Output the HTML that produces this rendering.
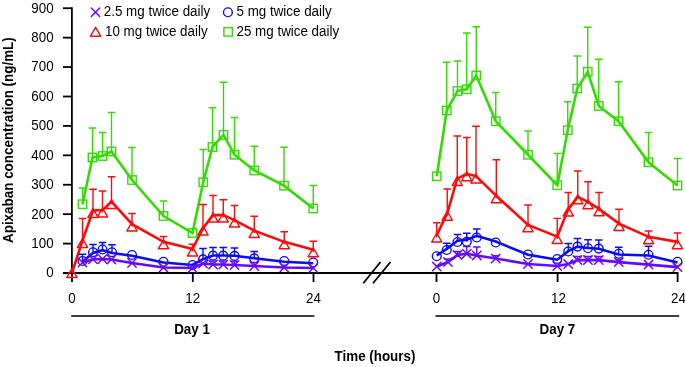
<!DOCTYPE html>
<html><head><meta charset="utf-8"><title>Apixaban concentration</title>
<style>
html,body{margin:0;padding:0;background:#fff}
svg{display:block}
text{font-family:"Liberation Sans",Arial,sans-serif;font-size:14.6px;fill:#000}
</style></head><body>
<svg width="685" height="367" viewBox="0 0 685 367">
<rect width="685" height="367" fill="#fff"/>
<g>
<path d="M71.9 7.3V273.9" stroke="#000" stroke-width="1.8" fill="none"/>
<path d="M63 273.00H71.9" stroke="#000" stroke-width="1.8"/>
<text transform="translate(53.60 277.40) scale(0.917 1)" text-anchor="end">0</text>
<path d="M63 243.58H71.9" stroke="#000" stroke-width="1.8"/>
<text transform="translate(53.60 247.98) scale(0.917 1)" text-anchor="end">100</text>
<path d="M63 214.16H71.9" stroke="#000" stroke-width="1.8"/>
<text transform="translate(53.60 218.56) scale(0.917 1)" text-anchor="end">200</text>
<path d="M63 184.74H71.9" stroke="#000" stroke-width="1.8"/>
<text transform="translate(53.60 189.14) scale(0.917 1)" text-anchor="end">300</text>
<path d="M63 155.32H71.9" stroke="#000" stroke-width="1.8"/>
<text transform="translate(53.60 159.72) scale(0.917 1)" text-anchor="end">400</text>
<path d="M63 125.90H71.9" stroke="#000" stroke-width="1.8"/>
<text transform="translate(53.60 130.30) scale(0.917 1)" text-anchor="end">500</text>
<path d="M63 96.48H71.9" stroke="#000" stroke-width="1.8"/>
<text transform="translate(53.60 100.88) scale(0.917 1)" text-anchor="end">600</text>
<path d="M63 67.06H71.9" stroke="#000" stroke-width="1.8"/>
<text transform="translate(53.60 71.46) scale(0.917 1)" text-anchor="end">700</text>
<path d="M63 37.64H71.9" stroke="#000" stroke-width="1.8"/>
<text transform="translate(53.60 42.04) scale(0.917 1)" text-anchor="end">800</text>
<path d="M63 8.22H71.9" stroke="#000" stroke-width="1.8"/>
<text transform="translate(53.60 12.62) scale(0.917 1)" text-anchor="end">900</text>
<path d="M63 273.0H678.4" stroke="#000" stroke-width="1.8"/>
<path d="M72 273.0V282" stroke="#000" stroke-width="1.8"/>
<text transform="translate(72.00 303.00) scale(0.917 1)" text-anchor="middle">0</text>
<path d="M192.8 273.0V282" stroke="#000" stroke-width="1.8"/>
<text transform="translate(192.80 303.00) scale(0.917 1)" text-anchor="middle">12</text>
<path d="M313.5 273.0V282" stroke="#000" stroke-width="1.8"/>
<text transform="translate(313.50 303.00) scale(0.917 1)" text-anchor="middle">24</text>
<path d="M436.5 273.0V282" stroke="#000" stroke-width="1.8"/>
<text transform="translate(436.50 303.00) scale(0.917 1)" text-anchor="middle">0</text>
<path d="M557.6 273.0V282" stroke="#000" stroke-width="1.8"/>
<text transform="translate(558.40 303.00) scale(0.917 1)" text-anchor="middle">12</text>
<path d="M677.6 273.0V282" stroke="#000" stroke-width="1.8"/>
<text transform="translate(678.40 303.00) scale(0.917 1)" text-anchor="middle">24</text>
<path d="M363.25 283.25L380.5 262M373 283.25L390.5 262" stroke="#000" stroke-width="1.8" fill="none"/>
<path d="M71.2 316H314.4M435.5 316H679.2" stroke="#000" stroke-width="1.7"/>
<text transform="translate(192.00 334.40) scale(0.917 1)" text-anchor="middle" font-weight="bold">Day 1</text>
<text transform="translate(557.40 334.40) scale(0.917 1)" text-anchor="middle" font-weight="bold">Day 7</text>
<text transform="translate(375.00 361.00) scale(0.917 1)" text-anchor="middle" font-weight="bold">Time (hours)</text>
<text transform="translate(12.9 243) rotate(-90) scale(0.872 1)" font-weight="bold" style="font-size:15.4px">Apixaban concentration (ng/mL)</text>
</g>
<g>
<path d="M82.50 204.25V188.00M78.70 188.00H86.30" stroke="#32dc00" stroke-width="1.4" fill="none"/>
<path d="M92.50 157.50V128.00M88.70 128.00H96.30" stroke="#32dc00" stroke-width="1.4" fill="none"/>
<path d="M102.50 156.00V132.50M98.70 132.50H106.30" stroke="#32dc00" stroke-width="1.4" fill="none"/>
<path d="M111.50 151.50V112.50M107.70 112.50H115.30" stroke="#32dc00" stroke-width="1.4" fill="none"/>
<path d="M132.00 180.00V147.50M128.20 147.50H135.80" stroke="#32dc00" stroke-width="1.4" fill="none"/>
<path d="M163.50 216.00V201.00M159.70 201.00H167.30" stroke="#32dc00" stroke-width="1.4" fill="none"/>
<path d="M203.25 182.25V149.50M199.45 149.50H207.05" stroke="#32dc00" stroke-width="1.4" fill="none"/>
<path d="M212.50 147.00V107.75M208.70 107.75H216.30" stroke="#32dc00" stroke-width="1.4" fill="none"/>
<path d="M223.50 134.90V82.25M219.70 82.25H227.30" stroke="#32dc00" stroke-width="1.4" fill="none"/>
<path d="M234.50 154.75V117.50M230.70 117.50H238.30" stroke="#32dc00" stroke-width="1.4" fill="none"/>
<path d="M254.25 170.50V146.25M250.45 146.25H258.05" stroke="#32dc00" stroke-width="1.4" fill="none"/>
<path d="M284.00 185.70V147.25M280.20 147.25H287.80" stroke="#32dc00" stroke-width="1.4" fill="none"/>
<path d="M313.25 208.50V185.50M309.45 185.50H317.05" stroke="#32dc00" stroke-width="1.4" fill="none"/>
<polyline points="82.50,204.25 92.50,157.50 102.50,156.00 111.50,151.50 132.00,180.00 163.50,216.00 192.50,233.00 203.25,182.25 212.50,147.00 223.50,134.90 234.50,154.75 254.25,170.50 284.00,185.70 313.25,208.50" fill="none" stroke="#32dc00" stroke-width="2.6" stroke-linejoin="miter" stroke-linecap="butt"/>
<rect x="78.30" y="200.05" width="8.4" height="8.4" fill="none" stroke="#32dc00" stroke-width="1.4"/>
<rect x="88.30" y="153.30" width="8.4" height="8.4" fill="none" stroke="#32dc00" stroke-width="1.4"/>
<rect x="98.30" y="151.80" width="8.4" height="8.4" fill="none" stroke="#32dc00" stroke-width="1.4"/>
<rect x="107.30" y="147.30" width="8.4" height="8.4" fill="none" stroke="#32dc00" stroke-width="1.4"/>
<rect x="127.80" y="175.80" width="8.4" height="8.4" fill="none" stroke="#32dc00" stroke-width="1.4"/>
<rect x="159.30" y="211.80" width="8.4" height="8.4" fill="none" stroke="#32dc00" stroke-width="1.4"/>
<rect x="188.30" y="228.80" width="8.4" height="8.4" fill="none" stroke="#32dc00" stroke-width="1.4"/>
<rect x="199.05" y="178.05" width="8.4" height="8.4" fill="none" stroke="#32dc00" stroke-width="1.4"/>
<rect x="208.30" y="142.80" width="8.4" height="8.4" fill="none" stroke="#32dc00" stroke-width="1.4"/>
<rect x="219.30" y="130.70" width="8.4" height="8.4" fill="none" stroke="#32dc00" stroke-width="1.4"/>
<rect x="230.30" y="150.55" width="8.4" height="8.4" fill="none" stroke="#32dc00" stroke-width="1.4"/>
<rect x="250.05" y="166.30" width="8.4" height="8.4" fill="none" stroke="#32dc00" stroke-width="1.4"/>
<rect x="279.80" y="181.50" width="8.4" height="8.4" fill="none" stroke="#32dc00" stroke-width="1.4"/>
<rect x="309.05" y="204.30" width="8.4" height="8.4" fill="none" stroke="#32dc00" stroke-width="1.4"/>
<path d="M82.50 243.00V218.50M78.70 218.50H86.30" stroke="#ff0a0a" stroke-width="1.4" fill="none"/>
<path d="M93.00 213.00V189.25M89.20 189.25H96.80" stroke="#ff0a0a" stroke-width="1.4" fill="none"/>
<path d="M102.50 212.50V191.00M98.70 191.00H106.30" stroke="#ff0a0a" stroke-width="1.4" fill="none"/>
<path d="M111.50 204.00V176.70M107.70 176.70H115.30" stroke="#ff0a0a" stroke-width="1.4" fill="none"/>
<path d="M132.00 226.50V213.50M128.20 213.50H135.80" stroke="#ff0a0a" stroke-width="1.4" fill="none"/>
<path d="M163.50 244.25V236.50M159.70 236.50H167.30" stroke="#ff0a0a" stroke-width="1.4" fill="none"/>
<path d="M192.50 251.50V244.25M188.70 244.25H196.30" stroke="#ff0a0a" stroke-width="1.4" fill="none"/>
<path d="M203.00 230.50V204.50M199.20 204.50H206.80" stroke="#ff0a0a" stroke-width="1.4" fill="none"/>
<path d="M213.00 217.50V195.50M209.20 195.50H216.80" stroke="#ff0a0a" stroke-width="1.4" fill="none"/>
<path d="M223.25 217.50V199.75M219.45 199.75H227.05" stroke="#ff0a0a" stroke-width="1.4" fill="none"/>
<path d="M234.50 222.50V205.50M230.70 205.50H238.30" stroke="#ff0a0a" stroke-width="1.4" fill="none"/>
<path d="M254.25 233.00V216.25M250.45 216.25H258.05" stroke="#ff0a0a" stroke-width="1.4" fill="none"/>
<path d="M284.25 244.25V231.75M280.45 231.75H288.05" stroke="#ff0a0a" stroke-width="1.4" fill="none"/>
<path d="M313.25 252.25V241.25M309.45 241.25H317.05" stroke="#ff0a0a" stroke-width="1.4" fill="none"/>
<polyline points="71.90,273.00 82.50,240.60 93.00,210.60 102.50,210.10 111.50,201.60 132.00,224.10 163.50,241.85 192.50,249.10 203.00,228.10 213.00,215.10 223.25,215.10 234.50,220.10 254.25,230.60 284.25,241.85 313.25,249.85" fill="none" stroke="#ff0a0a" stroke-width="2.6" stroke-linejoin="miter" stroke-linecap="butt"/>
<path d="M71.90 268.55L77.00 277.45H66.80Z" fill="none" stroke="#ff0a0a" stroke-width="1.4" stroke-linejoin="round"/>
<path d="M82.50 238.55L87.60 247.45H77.40Z" fill="none" stroke="#ff0a0a" stroke-width="1.4" stroke-linejoin="round"/>
<path d="M93.00 208.55L98.10 217.45H87.90Z" fill="none" stroke="#ff0a0a" stroke-width="1.4" stroke-linejoin="round"/>
<path d="M102.50 208.05L107.60 216.95H97.40Z" fill="none" stroke="#ff0a0a" stroke-width="1.4" stroke-linejoin="round"/>
<path d="M111.50 199.55L116.60 208.45H106.40Z" fill="none" stroke="#ff0a0a" stroke-width="1.4" stroke-linejoin="round"/>
<path d="M132.00 222.05L137.10 230.95H126.90Z" fill="none" stroke="#ff0a0a" stroke-width="1.4" stroke-linejoin="round"/>
<path d="M163.50 239.80L168.60 248.70H158.40Z" fill="none" stroke="#ff0a0a" stroke-width="1.4" stroke-linejoin="round"/>
<path d="M192.50 247.05L197.60 255.95H187.40Z" fill="none" stroke="#ff0a0a" stroke-width="1.4" stroke-linejoin="round"/>
<path d="M203.00 226.05L208.10 234.95H197.90Z" fill="none" stroke="#ff0a0a" stroke-width="1.4" stroke-linejoin="round"/>
<path d="M213.00 213.05L218.10 221.95H207.90Z" fill="none" stroke="#ff0a0a" stroke-width="1.4" stroke-linejoin="round"/>
<path d="M223.25 213.05L228.35 221.95H218.15Z" fill="none" stroke="#ff0a0a" stroke-width="1.4" stroke-linejoin="round"/>
<path d="M234.50 218.05L239.60 226.95H229.40Z" fill="none" stroke="#ff0a0a" stroke-width="1.4" stroke-linejoin="round"/>
<path d="M254.25 228.55L259.35 237.45H249.15Z" fill="none" stroke="#ff0a0a" stroke-width="1.4" stroke-linejoin="round"/>
<path d="M284.25 239.80L289.35 248.70H279.15Z" fill="none" stroke="#ff0a0a" stroke-width="1.4" stroke-linejoin="round"/>
<path d="M313.25 247.80L318.35 256.70H308.15Z" fill="none" stroke="#ff0a0a" stroke-width="1.4" stroke-linejoin="round"/>
<path d="M82.50 261.00V254.30M78.70 254.30H86.30" stroke="#0a0aff" stroke-width="1.4" fill="none"/>
<path d="M93.00 252.25V244.50M89.20 244.50H96.80" stroke="#0a0aff" stroke-width="1.4" fill="none"/>
<path d="M102.50 249.50V242.50M98.70 242.50H106.30" stroke="#0a0aff" stroke-width="1.4" fill="none"/>
<path d="M112.00 252.25V244.80M108.20 244.80H115.80" stroke="#0a0aff" stroke-width="1.4" fill="none"/>
<path d="M203.00 259.40V248.50M199.20 248.50H206.80" stroke="#0a0aff" stroke-width="1.4" fill="none"/>
<path d="M213.00 255.65V247.50M209.20 247.50H216.80" stroke="#0a0aff" stroke-width="1.4" fill="none"/>
<path d="M223.25 255.65V247.50M219.45 247.50H227.05" stroke="#0a0aff" stroke-width="1.4" fill="none"/>
<path d="M234.50 255.90V248.00M230.70 248.00H238.30" stroke="#0a0aff" stroke-width="1.4" fill="none"/>
<path d="M254.25 258.40V251.50M250.45 251.50H258.05" stroke="#0a0aff" stroke-width="1.4" fill="none"/>
<polyline points="82.50,261.70 93.00,252.95 102.50,250.20 112.00,252.95 132.00,255.70 163.50,262.45 192.50,264.95 203.00,259.20 213.00,255.45 223.25,255.45 234.50,255.70 254.25,258.20 284.25,261.70 313.25,263.20" fill="none" stroke="#0a0aff" stroke-width="2.6" stroke-linejoin="miter" stroke-linecap="butt"/>
<circle cx="82.50" cy="261.00" r="4.4" fill="none" stroke="#0a0aff" stroke-width="1.4"/>
<circle cx="93.00" cy="252.25" r="4.4" fill="none" stroke="#0a0aff" stroke-width="1.4"/>
<circle cx="102.50" cy="249.50" r="4.4" fill="none" stroke="#0a0aff" stroke-width="1.4"/>
<circle cx="112.00" cy="252.25" r="4.4" fill="none" stroke="#0a0aff" stroke-width="1.4"/>
<circle cx="132.00" cy="255.00" r="4.4" fill="none" stroke="#0a0aff" stroke-width="1.4"/>
<circle cx="163.50" cy="261.75" r="4.4" fill="none" stroke="#0a0aff" stroke-width="1.4"/>
<circle cx="192.50" cy="265.05" r="4.4" fill="none" stroke="#0a0aff" stroke-width="1.4"/>
<circle cx="203.00" cy="259.40" r="4.4" fill="none" stroke="#0a0aff" stroke-width="1.4"/>
<circle cx="213.00" cy="255.65" r="4.4" fill="none" stroke="#0a0aff" stroke-width="1.4"/>
<circle cx="223.25" cy="255.65" r="4.4" fill="none" stroke="#0a0aff" stroke-width="1.4"/>
<circle cx="234.50" cy="255.90" r="4.4" fill="none" stroke="#0a0aff" stroke-width="1.4"/>
<circle cx="254.25" cy="258.40" r="4.4" fill="none" stroke="#0a0aff" stroke-width="1.4"/>
<circle cx="284.25" cy="261.00" r="4.4" fill="none" stroke="#0a0aff" stroke-width="1.4"/>
<circle cx="313.25" cy="262.50" r="4.4" fill="none" stroke="#0a0aff" stroke-width="1.4"/>
<path d="M213.00 264.50V261.00M209.20 261.00H216.80" stroke="#660aff" stroke-width="1.4" fill="none"/>
<path d="M223.25 264.50V261.00M219.45 261.00H227.05" stroke="#660aff" stroke-width="1.4" fill="none"/>
<path d="M234.50 265.00V261.20M230.70 261.20H238.30" stroke="#660aff" stroke-width="1.4" fill="none"/>
<path d="M254.25 266.00V262.50M250.45 262.50H258.05" stroke="#660aff" stroke-width="1.4" fill="none"/>
<polyline points="82.50,262.50 93.00,259.25 102.50,259.00 111.50,259.50 132.00,263.00 163.50,267.50 192.50,268.00 203.00,263.50 213.00,264.50 223.25,264.50 234.50,265.00 254.25,266.00 284.25,267.50 313.25,268.00" fill="none" stroke="#660aff" stroke-width="2.6" stroke-linejoin="miter" stroke-linecap="butt"/>
<path d="M78.30 258.30L86.70 266.70M78.30 266.70L86.70 258.30" fill="none" stroke="#660aff" stroke-width="1.5" stroke-linecap="round"/>
<path d="M88.80 255.05L97.20 263.45M88.80 263.45L97.20 255.05" fill="none" stroke="#660aff" stroke-width="1.5" stroke-linecap="round"/>
<path d="M98.30 254.80L106.70 263.20M98.30 263.20L106.70 254.80" fill="none" stroke="#660aff" stroke-width="1.5" stroke-linecap="round"/>
<path d="M107.30 255.30L115.70 263.70M107.30 263.70L115.70 255.30" fill="none" stroke="#660aff" stroke-width="1.5" stroke-linecap="round"/>
<path d="M127.80 258.80L136.20 267.20M127.80 267.20L136.20 258.80" fill="none" stroke="#660aff" stroke-width="1.5" stroke-linecap="round"/>
<path d="M159.30 263.30L167.70 271.70M159.30 271.70L167.70 263.30" fill="none" stroke="#660aff" stroke-width="1.5" stroke-linecap="round"/>
<path d="M188.30 263.80L196.70 272.20M188.30 272.20L196.70 263.80" fill="none" stroke="#660aff" stroke-width="1.5" stroke-linecap="round"/>
<path d="M198.80 259.30L207.20 267.70M198.80 267.70L207.20 259.30" fill="none" stroke="#660aff" stroke-width="1.5" stroke-linecap="round"/>
<path d="M208.80 260.30L217.20 268.70M208.80 268.70L217.20 260.30" fill="none" stroke="#660aff" stroke-width="1.5" stroke-linecap="round"/>
<path d="M219.05 260.30L227.45 268.70M219.05 268.70L227.45 260.30" fill="none" stroke="#660aff" stroke-width="1.5" stroke-linecap="round"/>
<path d="M230.30 260.80L238.70 269.20M230.30 269.20L238.70 260.80" fill="none" stroke="#660aff" stroke-width="1.5" stroke-linecap="round"/>
<path d="M250.05 261.80L258.45 270.20M250.05 270.20L258.45 261.80" fill="none" stroke="#660aff" stroke-width="1.5" stroke-linecap="round"/>
<path d="M280.05 263.30L288.45 271.70M280.05 271.70L288.45 263.30" fill="none" stroke="#660aff" stroke-width="1.5" stroke-linecap="round"/>
<path d="M309.05 263.80L317.45 272.20M309.05 272.20L317.45 263.80" fill="none" stroke="#660aff" stroke-width="1.5" stroke-linecap="round"/>
<path d="M446.75 110.50V62.25M442.95 62.25H450.55" stroke="#32dc00" stroke-width="1.4" fill="none"/>
<path d="M457.50 91.00V61.00M453.70 61.00H461.30" stroke="#32dc00" stroke-width="1.4" fill="none"/>
<path d="M466.75 89.25V33.00M462.95 33.00H470.55" stroke="#32dc00" stroke-width="1.4" fill="none"/>
<path d="M476.25 75.50V26.75M472.45 26.75H480.05" stroke="#32dc00" stroke-width="1.4" fill="none"/>
<path d="M495.75 121.25V92.50M491.95 92.50H499.55" stroke="#32dc00" stroke-width="1.4" fill="none"/>
<path d="M528.00 154.75V131.00M524.20 131.00H531.80" stroke="#32dc00" stroke-width="1.4" fill="none"/>
<path d="M557.25 185.25V153.50M553.45 153.50H561.05" stroke="#32dc00" stroke-width="1.4" fill="none"/>
<path d="M567.75 130.25V101.75M563.95 101.75H571.55" stroke="#32dc00" stroke-width="1.4" fill="none"/>
<path d="M577.25 88.50V56.00M573.45 56.00H581.05" stroke="#32dc00" stroke-width="1.4" fill="none"/>
<path d="M587.75 71.75V27.25M583.95 27.25H591.55" stroke="#32dc00" stroke-width="1.4" fill="none"/>
<path d="M598.75 106.00V59.25M594.95 59.25H602.55" stroke="#32dc00" stroke-width="1.4" fill="none"/>
<path d="M618.50 121.25V81.75M614.70 81.75H622.30" stroke="#32dc00" stroke-width="1.4" fill="none"/>
<path d="M648.50 162.25V132.50M644.70 132.50H652.30" stroke="#32dc00" stroke-width="1.4" fill="none"/>
<path d="M677.50 185.50V158.50M673.70 158.50H681.30" stroke="#32dc00" stroke-width="1.4" fill="none"/>
<polyline points="436.75,176.25 446.75,110.50 457.50,91.00 466.75,89.25 476.25,75.50 495.75,121.25 528.00,154.75 557.25,185.25 567.75,130.25 577.25,88.50 587.75,71.75 598.75,106.00 618.50,121.25 648.50,162.25 677.50,185.50" fill="none" stroke="#32dc00" stroke-width="2.6" stroke-linejoin="miter" stroke-linecap="butt"/>
<rect x="432.55" y="172.05" width="8.4" height="8.4" fill="none" stroke="#32dc00" stroke-width="1.4"/>
<rect x="442.55" y="106.30" width="8.4" height="8.4" fill="none" stroke="#32dc00" stroke-width="1.4"/>
<rect x="453.30" y="86.80" width="8.4" height="8.4" fill="none" stroke="#32dc00" stroke-width="1.4"/>
<rect x="462.55" y="85.05" width="8.4" height="8.4" fill="none" stroke="#32dc00" stroke-width="1.4"/>
<rect x="472.05" y="71.30" width="8.4" height="8.4" fill="none" stroke="#32dc00" stroke-width="1.4"/>
<rect x="491.55" y="117.05" width="8.4" height="8.4" fill="none" stroke="#32dc00" stroke-width="1.4"/>
<rect x="523.80" y="150.55" width="8.4" height="8.4" fill="none" stroke="#32dc00" stroke-width="1.4"/>
<rect x="553.05" y="181.05" width="8.4" height="8.4" fill="none" stroke="#32dc00" stroke-width="1.4"/>
<rect x="563.55" y="126.05" width="8.4" height="8.4" fill="none" stroke="#32dc00" stroke-width="1.4"/>
<rect x="573.05" y="84.30" width="8.4" height="8.4" fill="none" stroke="#32dc00" stroke-width="1.4"/>
<rect x="583.55" y="67.55" width="8.4" height="8.4" fill="none" stroke="#32dc00" stroke-width="1.4"/>
<rect x="594.55" y="101.80" width="8.4" height="8.4" fill="none" stroke="#32dc00" stroke-width="1.4"/>
<rect x="614.30" y="117.05" width="8.4" height="8.4" fill="none" stroke="#32dc00" stroke-width="1.4"/>
<rect x="644.30" y="158.05" width="8.4" height="8.4" fill="none" stroke="#32dc00" stroke-width="1.4"/>
<rect x="673.30" y="181.30" width="8.4" height="8.4" fill="none" stroke="#32dc00" stroke-width="1.4"/>
<path d="M436.75 237.55V222.75M432.95 222.75H440.55" stroke="#ff0a0a" stroke-width="1.4" fill="none"/>
<path d="M447.25 215.75V189.00M443.45 189.00H451.05" stroke="#ff0a0a" stroke-width="1.4" fill="none"/>
<path d="M457.25 181.10V136.00M453.45 136.00H461.05" stroke="#ff0a0a" stroke-width="1.4" fill="none"/>
<path d="M466.75 176.30V137.50M462.95 137.50H470.55" stroke="#ff0a0a" stroke-width="1.4" fill="none"/>
<path d="M476.00 178.50V126.25M472.20 126.25H479.80" stroke="#ff0a0a" stroke-width="1.4" fill="none"/>
<path d="M496.30 198.25V159.75M492.50 159.75H500.10" stroke="#ff0a0a" stroke-width="1.4" fill="none"/>
<path d="M528.00 227.25V205.00M524.20 205.00H531.80" stroke="#ff0a0a" stroke-width="1.4" fill="none"/>
<path d="M557.25 239.00V218.40M553.45 218.40H561.05" stroke="#ff0a0a" stroke-width="1.4" fill="none"/>
<path d="M568.25 211.50V192.50M564.45 192.50H572.05" stroke="#ff0a0a" stroke-width="1.4" fill="none"/>
<path d="M577.75 199.25V171.00M573.95 171.00H581.55" stroke="#ff0a0a" stroke-width="1.4" fill="none"/>
<path d="M588.00 204.25V181.75M584.20 181.75H591.80" stroke="#ff0a0a" stroke-width="1.4" fill="none"/>
<path d="M599.00 211.25V192.50M595.20 192.50H602.80" stroke="#ff0a0a" stroke-width="1.4" fill="none"/>
<path d="M619.00 226.00V209.25M615.20 209.25H622.80" stroke="#ff0a0a" stroke-width="1.4" fill="none"/>
<path d="M648.60 239.25V231.00M644.80 231.00H652.40" stroke="#ff0a0a" stroke-width="1.4" fill="none"/>
<path d="M677.40 244.25V233.00M673.60 233.00H681.20" stroke="#ff0a0a" stroke-width="1.4" fill="none"/>
<polyline points="436.75,235.15 447.25,213.35 457.25,178.70 466.75,173.90 476.00,176.10 496.30,195.85 528.00,224.85 557.25,236.60 568.25,209.10 577.75,196.85 588.00,201.85 599.00,208.85 619.00,223.60 648.60,236.85 677.40,241.85" fill="none" stroke="#ff0a0a" stroke-width="2.6" stroke-linejoin="miter" stroke-linecap="butt"/>
<path d="M436.75 233.10L441.85 242.00H431.65Z" fill="none" stroke="#ff0a0a" stroke-width="1.4" stroke-linejoin="round"/>
<path d="M447.25 211.30L452.35 220.20H442.15Z" fill="none" stroke="#ff0a0a" stroke-width="1.4" stroke-linejoin="round"/>
<path d="M457.25 176.65L462.35 185.55H452.15Z" fill="none" stroke="#ff0a0a" stroke-width="1.4" stroke-linejoin="round"/>
<path d="M466.75 171.85L471.85 180.75H461.65Z" fill="none" stroke="#ff0a0a" stroke-width="1.4" stroke-linejoin="round"/>
<path d="M476.00 174.05L481.10 182.95H470.90Z" fill="none" stroke="#ff0a0a" stroke-width="1.4" stroke-linejoin="round"/>
<path d="M496.30 193.80L501.40 202.70H491.20Z" fill="none" stroke="#ff0a0a" stroke-width="1.4" stroke-linejoin="round"/>
<path d="M528.00 222.80L533.10 231.70H522.90Z" fill="none" stroke="#ff0a0a" stroke-width="1.4" stroke-linejoin="round"/>
<path d="M557.25 234.55L562.35 243.45H552.15Z" fill="none" stroke="#ff0a0a" stroke-width="1.4" stroke-linejoin="round"/>
<path d="M568.25 207.05L573.35 215.95H563.15Z" fill="none" stroke="#ff0a0a" stroke-width="1.4" stroke-linejoin="round"/>
<path d="M577.75 194.80L582.85 203.70H572.65Z" fill="none" stroke="#ff0a0a" stroke-width="1.4" stroke-linejoin="round"/>
<path d="M588.00 199.80L593.10 208.70H582.90Z" fill="none" stroke="#ff0a0a" stroke-width="1.4" stroke-linejoin="round"/>
<path d="M599.00 206.80L604.10 215.70H593.90Z" fill="none" stroke="#ff0a0a" stroke-width="1.4" stroke-linejoin="round"/>
<path d="M619.00 221.55L624.10 230.45H613.90Z" fill="none" stroke="#ff0a0a" stroke-width="1.4" stroke-linejoin="round"/>
<path d="M648.60 234.80L653.70 243.70H643.50Z" fill="none" stroke="#ff0a0a" stroke-width="1.4" stroke-linejoin="round"/>
<path d="M677.40 239.80L682.50 248.70H672.30Z" fill="none" stroke="#ff0a0a" stroke-width="1.4" stroke-linejoin="round"/>
<path d="M446.75 250.00V243.25M442.95 243.25H450.55" stroke="#0a0aff" stroke-width="1.4" fill="none"/>
<path d="M457.50 242.00V234.50M453.70 234.50H461.30" stroke="#0a0aff" stroke-width="1.4" fill="none"/>
<path d="M466.75 241.75V233.25M462.95 233.25H470.55" stroke="#0a0aff" stroke-width="1.4" fill="none"/>
<path d="M476.75 237.50V229.00M472.95 229.00H480.55" stroke="#0a0aff" stroke-width="1.4" fill="none"/>
<path d="M568.25 251.50V243.50M564.45 243.50H572.05" stroke="#0a0aff" stroke-width="1.4" fill="none"/>
<path d="M577.50 246.60V238.50M573.70 238.50H581.30" stroke="#0a0aff" stroke-width="1.4" fill="none"/>
<path d="M588.00 248.25V239.75M584.20 239.75H591.80" stroke="#0a0aff" stroke-width="1.4" fill="none"/>
<path d="M598.75 248.60V240.00M594.95 240.00H602.55" stroke="#0a0aff" stroke-width="1.4" fill="none"/>
<path d="M618.75 253.75V247.25M614.95 247.25H622.55" stroke="#0a0aff" stroke-width="1.4" fill="none"/>
<path d="M648.50 254.75V246.25M644.70 246.25H652.30" stroke="#0a0aff" stroke-width="1.4" fill="none"/>
<polyline points="436.75,255.35 446.75,248.90 457.50,240.80 466.75,239.65 476.75,235.80 495.75,241.60 528.00,254.70 557.25,259.70 568.25,251.20 577.50,246.70 588.00,247.95 598.75,248.70 618.75,254.45 648.50,255.45 677.50,262.45" fill="none" stroke="#0a0aff" stroke-width="2.6" stroke-linejoin="miter" stroke-linecap="butt"/>
<circle cx="436.75" cy="256.25" r="4.4" fill="none" stroke="#0a0aff" stroke-width="1.4"/>
<circle cx="446.75" cy="250.00" r="4.4" fill="none" stroke="#0a0aff" stroke-width="1.4"/>
<circle cx="457.50" cy="242.00" r="4.4" fill="none" stroke="#0a0aff" stroke-width="1.4"/>
<circle cx="466.75" cy="241.75" r="4.4" fill="none" stroke="#0a0aff" stroke-width="1.4"/>
<circle cx="476.75" cy="237.50" r="4.4" fill="none" stroke="#0a0aff" stroke-width="1.4"/>
<circle cx="495.75" cy="242.50" r="4.4" fill="none" stroke="#0a0aff" stroke-width="1.4"/>
<circle cx="528.00" cy="254.50" r="4.4" fill="none" stroke="#0a0aff" stroke-width="1.4"/>
<circle cx="557.25" cy="259.00" r="4.4" fill="none" stroke="#0a0aff" stroke-width="1.4"/>
<circle cx="568.25" cy="251.50" r="4.4" fill="none" stroke="#0a0aff" stroke-width="1.4"/>
<circle cx="577.50" cy="246.60" r="4.4" fill="none" stroke="#0a0aff" stroke-width="1.4"/>
<circle cx="588.00" cy="248.25" r="4.4" fill="none" stroke="#0a0aff" stroke-width="1.4"/>
<circle cx="598.75" cy="248.60" r="4.4" fill="none" stroke="#0a0aff" stroke-width="1.4"/>
<circle cx="618.75" cy="253.75" r="4.4" fill="none" stroke="#0a0aff" stroke-width="1.4"/>
<circle cx="648.50" cy="254.75" r="4.4" fill="none" stroke="#0a0aff" stroke-width="1.4"/>
<circle cx="677.50" cy="261.75" r="4.4" fill="none" stroke="#0a0aff" stroke-width="1.4"/>
<path d="M448.00 262.00V259.00M444.20 259.00H451.80" stroke="#660aff" stroke-width="1.4" fill="none"/>
<path d="M457.50 254.95V251.50M453.70 251.50H461.30" stroke="#660aff" stroke-width="1.4" fill="none"/>
<path d="M466.75 253.70V246.50M462.95 246.50H470.55" stroke="#660aff" stroke-width="1.4" fill="none"/>
<path d="M476.75 255.45V247.00M472.95 247.00H480.55" stroke="#660aff" stroke-width="1.4" fill="none"/>
<path d="M495.75 258.50V255.75M491.95 255.75H499.55" stroke="#660aff" stroke-width="1.4" fill="none"/>
<path d="M577.50 260.10V256.35M573.70 256.35H581.30" stroke="#660aff" stroke-width="1.4" fill="none"/>
<path d="M588.00 260.10V256.35M584.20 256.35H591.80" stroke="#660aff" stroke-width="1.4" fill="none"/>
<path d="M598.75 260.10V256.35M594.95 256.35H602.55" stroke="#660aff" stroke-width="1.4" fill="none"/>
<path d="M618.75 262.10V259.10M614.95 259.10H622.55" stroke="#660aff" stroke-width="1.4" fill="none"/>
<polyline points="436.75,266.50 448.00,262.00 457.50,254.95 466.75,253.70 476.75,255.45 495.75,258.50 528.00,264.00 557.25,266.00 568.25,264.10 577.50,260.10 588.00,260.10 598.75,260.10 618.75,262.10 648.50,264.60 677.50,267.10" fill="none" stroke="#660aff" stroke-width="2.6" stroke-linejoin="miter" stroke-linecap="butt"/>
<path d="M432.55 262.30L440.95 270.70M432.55 270.70L440.95 262.30" fill="none" stroke="#660aff" stroke-width="1.5" stroke-linecap="round"/>
<path d="M443.80 257.80L452.20 266.20M443.80 266.20L452.20 257.80" fill="none" stroke="#660aff" stroke-width="1.5" stroke-linecap="round"/>
<path d="M453.30 250.75L461.70 259.15M453.30 259.15L461.70 250.75" fill="none" stroke="#660aff" stroke-width="1.5" stroke-linecap="round"/>
<path d="M462.55 249.50L470.95 257.90M462.55 257.90L470.95 249.50" fill="none" stroke="#660aff" stroke-width="1.5" stroke-linecap="round"/>
<path d="M472.55 251.25L480.95 259.65M472.55 259.65L480.95 251.25" fill="none" stroke="#660aff" stroke-width="1.5" stroke-linecap="round"/>
<path d="M491.55 254.30L499.95 262.70M491.55 262.70L499.95 254.30" fill="none" stroke="#660aff" stroke-width="1.5" stroke-linecap="round"/>
<path d="M523.80 259.80L532.20 268.20M523.80 268.20L532.20 259.80" fill="none" stroke="#660aff" stroke-width="1.5" stroke-linecap="round"/>
<path d="M553.05 261.80L561.45 270.20M553.05 270.20L561.45 261.80" fill="none" stroke="#660aff" stroke-width="1.5" stroke-linecap="round"/>
<path d="M564.05 259.90L572.45 268.30M564.05 268.30L572.45 259.90" fill="none" stroke="#660aff" stroke-width="1.5" stroke-linecap="round"/>
<path d="M573.30 255.90L581.70 264.30M573.30 264.30L581.70 255.90" fill="none" stroke="#660aff" stroke-width="1.5" stroke-linecap="round"/>
<path d="M583.80 255.90L592.20 264.30M583.80 264.30L592.20 255.90" fill="none" stroke="#660aff" stroke-width="1.5" stroke-linecap="round"/>
<path d="M594.55 255.90L602.95 264.30M594.55 264.30L602.95 255.90" fill="none" stroke="#660aff" stroke-width="1.5" stroke-linecap="round"/>
<path d="M614.55 257.90L622.95 266.30M614.55 266.30L622.95 257.90" fill="none" stroke="#660aff" stroke-width="1.5" stroke-linecap="round"/>
<path d="M644.30 260.40L652.70 268.80M644.30 268.80L652.70 260.40" fill="none" stroke="#660aff" stroke-width="1.5" stroke-linecap="round"/>
<path d="M673.30 262.90L681.70 271.30M673.30 271.30L681.70 262.90" fill="none" stroke="#660aff" stroke-width="1.5" stroke-linecap="round"/>
</g>
<g>
<path d="M91.30 8.05L99.70 16.45M91.30 16.45L99.70 8.05" fill="none" stroke="#660aff" stroke-width="1.5" stroke-linecap="round"/>
<text transform="translate(103.80 16.30) scale(0.917 1)">2.5 mg twice daily</text>
<path d="M95.60 27.30L100.70 36.20H90.50Z" fill="none" stroke="#ff0a0a" stroke-width="1.4" stroke-linejoin="round"/>
<text transform="translate(105.00 35.80) scale(0.917 1)">10 mg twice daily</text>
<circle cx="227.90" cy="12.25" r="4.4" fill="none" stroke="#0a0aff" stroke-width="1.4"/>
<text transform="translate(236.50 16.30) scale(0.917 1)">5 mg twice daily</text>
<rect x="223.90" y="27.70" width="8.4" height="8.4" fill="none" stroke="#32dc00" stroke-width="1.4"/>
<text transform="translate(236.50 35.80) scale(0.917 1)">25 mg twice daily</text>
</g>
</svg>
</body></html>
